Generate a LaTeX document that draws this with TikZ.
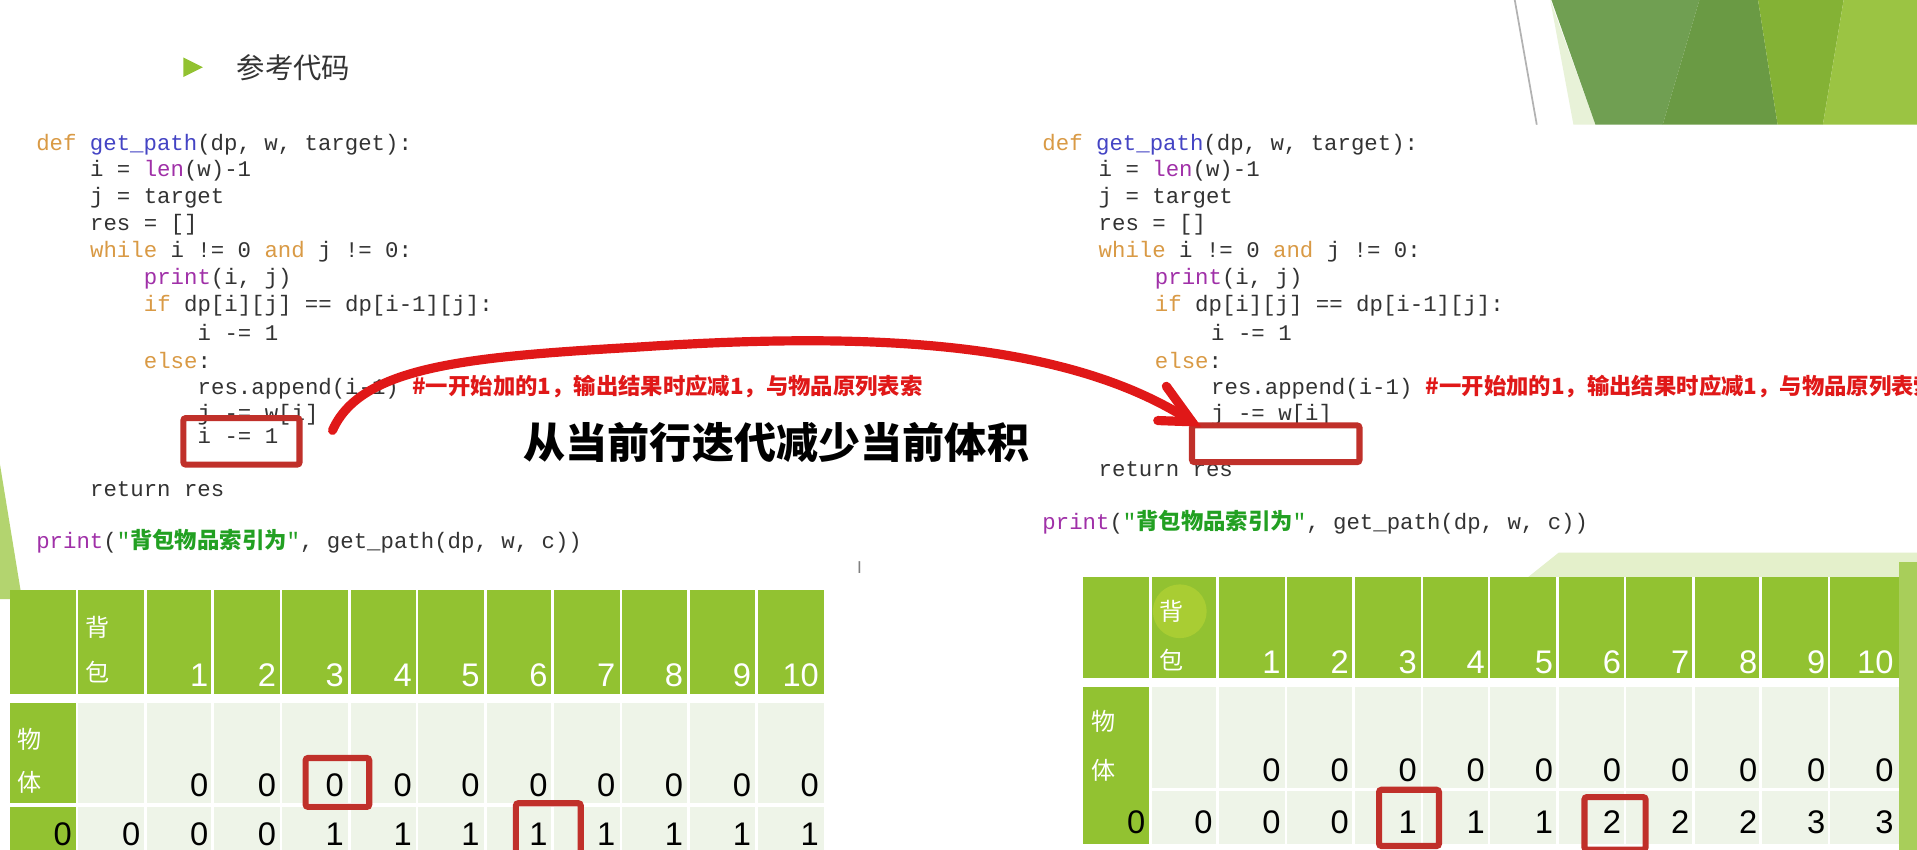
\documentclass[tikz,border=0pt]{standalone}
\usepackage{fontspec}
\setmainfont{Liberation Sans}
\newfontfamily\mono{Liberation Mono}
\newfontfamily\cjk{Noto Sans CJK SC}
\newcommand{\cjkb}{\cjk\bfseries}
\definecolor{kw}{HTML}{D99A45}
\definecolor{fn}{HTML}{4444C4}
\definecolor{bi}{HTML}{A030A8}
\definecolor{st}{HTML}{22A022}
\definecolor{tx}{HTML}{333333}
\definecolor{cmr}{HTML}{E01818}
\definecolor{hg}{HTML}{92C231}
\definecolor{cell}{HTML}{EEF4E8}
\definecolor{bx}{HTML}{C0302A}
\definecolor{ga}{HTML}{709F52}
\definecolor{gb}{HTML}{6A9A44}
\definecolor{gc}{HTML}{84B235}
\definecolor{gd}{HTML}{9BC443}
\definecolor{ge}{HTML}{A9CD33}
\definecolor{pale}{HTML}{E8F2D8}
\newcommand{\kw}[1]{\textcolor{kw}{#1}}
\newcommand{\fn}[1]{\textcolor{fn}{#1}}
\newcommand{\bi}[1]{\textcolor{bi}{#1}}
\newcommand{\cmt}[1]{\textcolor{cmr}{{\cjkb\fontsize{5.2pt}{6pt}\selectfont #1}}}
\begin{document}
\begin{tikzpicture}[x=0.01cm,y=-0.01cm,
  code/.style={anchor=west,inner sep=0,text=tx,font=\mono\fontsize{5.2pt}{6pt}\selectfont},
  hdr/.style={anchor=south east,inner sep=1pt,text=white,font=\fontsize{7.6pt}{8pt}\selectfont},
  val/.style={anchor=south east,inner sep=1pt,text=black,font=\fontsize{7.6pt}{8pt}\selectfont},
  redbox/.style={draw=bx,line width=0.05cm,rounded corners=0.02cm},
  redline/.style={draw=cmr,line width=0.075cm,line cap=round},
  lbl/.style={inner sep=0,text=white,font=\cjk\fontsize{5.6pt}{6pt}\selectfont}]
\useasboundingbox (0,0) rectangle (1568,695);
\fill[white] (0,0) rectangle (1568,695);
% decoration top right
\draw[gray!60,line width=0.4pt] (1239,0) -- (1257,102);
\fill[pale] (1268,0) -- (1287,102) -- (1305,102) -- cycle;
\fill[ga] (1269,0) -- (1390,0) -- (1360,102) -- (1305,102) -- cycle;
\fill[gb] (1390,0) -- (1438,0) -- (1454,102) -- (1360,102) -- cycle;
\fill[gc] (1438,0) -- (1508,0) -- (1491,102) -- (1454,102) -- cycle;
\fill[gd] (1508,0) -- (1568,0) -- (1568,102) -- (1491,102) -- cycle;
% left sliver
\fill[hg!70] (0,380) -- (18,490) -- (0,490) -- cycle;
% pale shapes behind right table
\fill[hg!25] (1250,472) -- (1275,452) -- (1568,452) -- (1568,472) -- cycle;
\fill[hg!80] (1553,460) rectangle (1568,695);
% title
\fill[hg] (150,47) -- (166,55) -- (150,63) -- cycle;
\node[anchor=west,inner sep=0,font=\cjk\fontsize{6.6pt}{7pt}\selectfont,text=tx] (title) at (193,55) {参考代码};
% left code
\node[code] (l1) at (29,118) {\kw{def} \fn{get\_path}(dp, w, target):};
\node[code] (l2) at (73,140) {i = \bi{len}(w)-1};
\node[code] (l3) at (73,162) {j = target};
\node[code] (l4) at (73,184) {res = []};
\node[code] (l5) at (73,206) {\kw{while} i != 0 \kw{and} j != 0:};
\node[code] (l6) at (117,228) {\bi{print}(i, j)};
\node[code] (l7) at (117,250) {\kw{if} dp[i][j] == dp[i-1][j]:};
\node[code] (l8) at (161,272) {i -= 1};
\node[code] (l9) at (117,295) {\kw{else}:};
\node[code] (l10) at (161,317) {res.append(i-1) \cmt{\#一开始加的1，输出结果时应减1，与物品原列表索}};
\node[code] (l11) at (161,339) {j -= w[i]};
\node[code] (l12) at (161,356) {i -= 1};
\node[code] (l13) at (73,400) {return res};
\node[code] (l14) at (29,443) {\bi{print}(\textcolor{st}{"{\cjkb\fontsize{5.2pt}{6pt}\selectfont 背包物品索引为}"}, get\_path(dp, w, c))};
% right code (white backdrop over overflow)
\fill[white] (845,105) rectangle (1568,440);
\node[code] (r1) at (852,118) {\kw{def} \fn{get\_path}(dp, w, target):};
\node[code] (r2) at (898,140) {i = \bi{len}(w)-1};
\node[code] (r3) at (898,162) {j = target};
\node[code] (r4) at (898,184) {res = []};
\node[code] (r5) at (898,206) {\kw{while} i != 0 \kw{and} j != 0:};
\node[code] (r6) at (944,228) {\bi{print}(i, j)};
\node[code] (r7) at (944,250) {\kw{if} dp[i][j] == dp[i-1][j]:};
\node[code] (r8) at (990,272) {i -= 1};
\node[code] (r9) at (944,295) {\kw{else}:};
\begin{scope}
\clip (850,300) rectangle (1568,330);
\node[code] (r10) at (990,317) {res.append(i-1) \cmt{\#一开始加的1，输出结果时应减1，与物品原列表索引}};
\end{scope}
\node[code] (r11) at (990,339) {j -= w[i]};
\node[code] (r13) at (898,384) {return res};
\node[code] (r14) at (852,427) {\bi{print}(\textcolor{st}{"{\cjkb\fontsize{5.2pt}{6pt}\selectfont 背包物品索引为}"}, get\_path(dp, w, c))};
% red boxes in code
\draw[redbox] (150,342) rectangle (245,380);
\draw[redbox] (975,348) rectangle (1112,378);
% arrow
\coordinate (as) at (272,352);
\coordinate (ae) at (975,345);
\draw[redline] (as) .. controls (295,300) and (380,292) .. (520,284) .. controls (700,272) and (870,276) .. (ae);
\draw[redline] (947,344) -- (ae) -- (954,316);
% big caption
\node[inner sep=0,font=\cjkb\fontsize{9.8pt}{10pt}\selectfont] (cap) at (635,362) {从当前行迭代减少当前体积};
\node[inner sep=0,text=gray,font=\fontsize{4pt}{4pt}\selectfont] (cur) at (703,464) {I};
% ---- left table
\fill[hg] (8,483) rectangle (674,570);
\fill[hg] (8,573) rectangle (63,695);
\fill[cell] (63,573) rectangle (674,695);
\foreach \x in {63,119,174,230,286,341,397,452,508,563,619} \draw[white,line width=0.6pt] (\x,483) -- (\x,695);
\draw[white,line width=2pt] (8,571.5) -- (674,571.5);
\draw[white,line width=0.8pt] (8,658.5) -- (674,658.5);
\node[lbl] (lbei) at (80,513) {背};
\node[lbl] (lbao) at (80,550) {包};
\node[lbl] (lwu) at (24,605) {物};
\node[lbl] (lti) at (24,640) {体};
\foreach \n [count=\i] in {1,...,10} {
  \pgfmathsetmacro\xr{119+55.5*\i}
  \node[hdr] at (\xr,566) {\n};
  \node[val] at (\xr,656) {0};
}
\node[val] at (63,696) {0};
\foreach \v [count=\i from 0] in {0,0,0,1,1,1,1,1,1,1,1} {
  \pgfmathsetmacro\xr{119+55.5*\i}
  \node[val] at (\xr,696) {\v};
}
\draw[redbox] (250,620) rectangle (302,660);
\draw[redbox] (422,657) rectangle (475,700);
% ---- right table
\fill[hg] (886,472) rectangle (1553,557);
\fill[hg] (886,560) rectangle (941,690);
\fill[cell] (941,560) rectangle (1553,690);
\fill[ge] (965,500) circle (22);
\foreach \x in {941,996,1052,1107,1163,1218,1274,1329,1385,1440,1496} \draw[white,line width=0.6pt] (\x,472) -- (\x,690);
\draw[white,line width=2pt] (886,558.5) -- (1553,558.5);
\draw[white,line width=0.8pt] (941,646) -- (1553,646);
\node[lbl] (rbei) at (958,500) {背};
\node[lbl] (rbao) at (958,540) {包};
\node[lbl] (rwu) at (903,590) {物};
\node[lbl] (rti) at (903,630) {体};
\foreach \n [count=\i] in {1,...,10} {
  \pgfmathsetmacro\xr{996+55.7*\i}
  \node[hdr] at (\xr,555) {\n};
  \node[val] at (\xr,644) {0};
}
\node[val] at (941,686) {0};
\foreach \v [count=\i from 0] in {0,0,0,1,1,1,2,2,2,3,3} {
  \pgfmathsetmacro\xr{996+55.7*\i}
  \node[val] at (\xr,686) {\v};
}
\draw[redbox] (1128,646) rectangle (1177,692);
\draw[redbox] (1296,652) rectangle (1346,695);
\end{tikzpicture}
\end{document}
